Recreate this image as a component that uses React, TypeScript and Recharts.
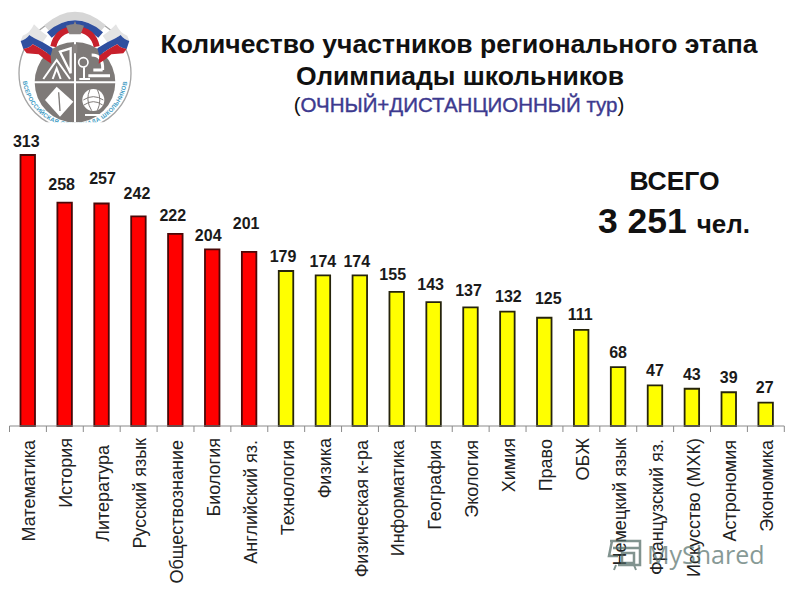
import React from 'react';
import { BarChart, Bar, XAxis, YAxis, Cell, LabelList } from 'recharts';

const subjects = [
  'Математика', 'История', 'Литература', 'Русский язык', 'Обществознание', 'Биология', 'Английский яз.',
  'Технология', 'Физика', 'Физическая к-ра', 'Информатика', 'География', 'Экология', 'Химия', 'Право', 'ОБЖ',
  'Немецкий язык', 'Французский яз.', 'Искусство (МХК)', 'Астрономия', 'Экономика',
];
const participants = [313, 258, 257, 242, 222, 204, 201, 179, 174, 174, 155, 143, 137, 132, 125, 111, 68, 47, 43, 39, 27];
const redCount = 7;

// hand placed in the original slide, so the labels do not sit evenly over the bars
const labelDx = [-1.5, -3, 1, -1.5, -2.5, -4, -3, -3, 0, -3, -4, -3, -2, 1, 4, -1, 0, 0, 0, 0, -1];
const labelGap = [13, 18, 24, 22, 18, 13, 28, 14, 13, 13, 17, 17, 16, 15, 19, 15, 14, 14, 14, 14, 15];
const tickStart = [440, 438, 445, 438, 440, 438, 440, 440, 438, 440, 440, 440, 440, 438, 439, 438, 438, 439, 438, 440, 440];

const chartData = subjects.map((name, i) => ({ name, value: participants[i] }));

const FONT = '"Liberation Sans", Arial, sans-serif';
const BAND = (800 - 9.5 - 15.7) / subjects.length;

const SubjectTick = ({ x, index, payload }: any) => {
  const axisY = 426;
  const last = index === subjects.length - 1;
  return (
    <g>
      <line x1={x - BAND / 2} x2={x - BAND / 2} y1={axisY} y2={axisY + 6} stroke="#8a8a8a" />
      {last && <line x1={x + BAND / 2} x2={x + BAND / 2} y1={axisY} y2={axisY + 6} stroke="#8a8a8a" />}
      <text
        transform={`translate(${x + 7.5},${tickStart[index]}) rotate(-90)`}
        textAnchor="end"
        fontFamily={FONT}
        fontSize={18}
        fill="#222"
      >
        {payload.value}
      </text>
    </g>
  );
};

const ValueLabel = ({ x, y, width, value, index }: any) => (
  <text
    x={x + width / 2 + labelDx[index]}
    y={y - labelGap[index] + 5}
    textAnchor="middle"
    fontFamily={FONT}
    fontSize={16}
    fontWeight="bold"
    fill="#1a1a1a"
  >
    {value}
  </text>
);

// drawn in the coordinates of a 3x crop of the emblem, scaled down by the group transform
const Emblem = () => (
  <g transform="translate(10,5) scale(0.3333)">
    <defs>
      <clipPath id="emblemClip"><rect x="0" y="0" width="390" height="352" /></clipPath>
      <path id="emblemRing" d="M 38 190 A 158 158 0 1 0 352 190" />
    </defs>
    <g clipPath="url(#emblemClip)">
      <circle cx="195" cy="205" r="168" fill="#fff" stroke="#a5a5a5" strokeWidth="4" />
      <circle cx="195" cy="232" r="121" fill="#7e7a78" />
      <text fontFamily={FONT} fontSize="18" fontWeight="bold" fill="#3f9cc4" letterSpacing="0.8">
        <textPath href="#emblemRing" startOffset="50%" textAnchor="middle">ВСЕРОССИЙСКАЯ ОЛИМПИАДА ШКОЛЬНИКОВ</textPath>
      </text>
      <path d="M195 100 V360 M70 232 H320" stroke="#fff" strokeWidth="6" />
      <path d="M100 222 L140 165 L180 222 M128 222 L140 190 L152 222" fill="none" stroke="#fff" strokeWidth="6" />
      <path d="M150 140 L182 130 L182 205 Z" fill="none" stroke="#fff" strokeWidth="7" />
      <circle cx="220" cy="172" r="14" fill="none" stroke="#fff" strokeWidth="5" />
      <path d="M222 187 V222 M208 222 H240" stroke="#fff" strokeWidth="6" />
      <path d="M245 150 Q280 150 278 195 M235 212 H300 M250 195 H278" fill="none" stroke="#fff" strokeWidth="9" />
      <path d="M105 285 L140 245 L190 290 L150 335 Z" fill="#fff" />
      <path d="M146 262 L150 318" stroke="#7e7a78" strokeWidth="4" />
      <circle cx="250" cy="285" r="33" fill="#fff" />
      <path d="M220 285 Q250 265 280 285 M222 300 Q250 280 278 300 M240 253 Q225 285 245 317 M262 253 Q277 285 262 317" fill="none" stroke="#7e7a78" strokeWidth="3" />
      <path d="M225 330 H275" stroke="#fff" strokeWidth="6" />
      {/* ribbon arch */}
      <path d="M110 70 Q195 -5 280 70" fill="none" stroke="#d6d6d6" strokeWidth="24" />
      <path d="M118 90 Q195 25 272 90" fill="none" stroke="#2f4f9f" strokeWidth="22" />
      <path d="M130 125 Q140 75 195 72 Q250 75 260 125" fill="none" stroke="#c8202c" strokeWidth="18" />
      {/* torch */}
      <path d="M168 62 L178 88 H212 L222 62 Q195 52 168 62 Z" fill="#8a8583" />
      <path d="M195 48 L182 80 H208 Z" fill="#8a8583" />
      <path d="M188 118 H202 V145 H188 Z" fill="#8a8583" />
      {/* left flag */}
      <path d="M38 92 Q60 85 72 58 Q92 80 112 92 L98 112 Q72 100 58 90 Q48 104 32 108 Z" fill="#e4e4e4" />
      <path d="M32 108 Q48 104 58 90 Q72 100 98 112 L128 130 L122 152 Q90 128 68 118 Q58 130 40 132 Z" fill="#2f4f9f" />
      <path d="M40 132 Q58 130 68 118 Q90 128 122 152 L124 176 Q100 162 86 148 Q66 146 50 145 Z" fill="#c8202c" />
      {/* right flag */}
      <g transform="translate(390,0) scale(-1,1)">
        <path d="M38 92 Q60 85 72 58 Q92 80 112 92 L98 112 Q72 100 58 90 Q48 104 32 108 Z" fill="#e4e4e4" />
        <path d="M32 108 Q48 104 58 90 Q72 100 98 112 L128 130 L122 152 Q90 128 68 118 Q58 130 40 132 Z" fill="#2f4f9f" />
        <path d="M40 132 Q58 130 68 118 Q90 128 122 152 L124 176 Q100 162 86 148 Q66 146 50 145 Z" fill="#c8202c" />
      </g>
    </g>
  </g>
);

const Watermark = () => (
  <g opacity={0.7}>
    <path d="M610 541 H640 V565 H618 M613 548 H640 M612 541 L609 556 H618 M622 553 H634 V563 H622 Z" fill="none" stroke="#4d6660" strokeWidth="2.5" />
    <path d="M616 565 L614 570 M634 565 L636 570" stroke="#4d6660" strokeWidth="2" />
    <text x={647} y={564} fontFamily='"Open Sans", sans-serif' fontSize={25} fill="#55706a">MyShared</text>
  </g>
);

export default function App() {
  return (
    <div style={{ position: 'absolute', left: 0, top: 0, width: 800, height: 600, background: '#fff', overflow: 'hidden' }}>
      <BarChart
        width={800}
        height={600}
        data={chartData}
        margin={{ top: 155, right: 15.7, bottom: 0, left: 9.5 }}
      >
        <YAxis hide domain={[0, 313]} />
        <XAxis
          dataKey="name"
          height={174}
          interval={0}
          stroke="#8a8a8a"
          tickLine={false}
          tick={<SubjectTick />}
        />
        <Bar dataKey="value" barSize={14.5} strokeWidth={1.8} isAnimationActive={false}>
          {chartData.map((d, i) => (
            <Cell
              key={d.name}
              fill={i < redCount ? '#ff0000' : '#ffff00'}
              stroke={i < redCount ? '#4a0808' : '#26240c'}
            />
          ))}
          <LabelList dataKey="value" content={<ValueLabel />} />
        </Bar>
      </BarChart>
      <svg width={800} height={600} style={{ position: 'absolute', left: 0, top: 0, pointerEvents: 'none' }}>
        <Emblem />
        <g fontFamily={FONT} textAnchor="middle">
          <text x={459} y={53} fontSize={26.5} fontWeight="bold" fill="#111">Количество участников регионального этапа</text>
          <text x={460} y={85} fontSize={26.5} fontWeight="bold" fill="#111">Олимпиады школьников</text>
          <text x={459} y={112} fontSize={20.5} fill="#111">
            (<tspan fill="#3d3a8f" stroke="#3d3a8f" strokeWidth={0.4}>ОЧНЫЙ+ДИСТАНЦИОННЫЙ тур</tspan>)
          </text>
          <text x={674.5} y={190} fontSize={26.5} fontWeight="bold" fill="#111">ВСЕГО</text>
          <text x={674} y={233} fontSize={35.5} fontWeight="bold" fill="#111">
            3 251 <tspan fontSize={26}>чел.</tspan>
          </text>
        </g>
        <Watermark />
      </svg>
    </div>
  );
}
